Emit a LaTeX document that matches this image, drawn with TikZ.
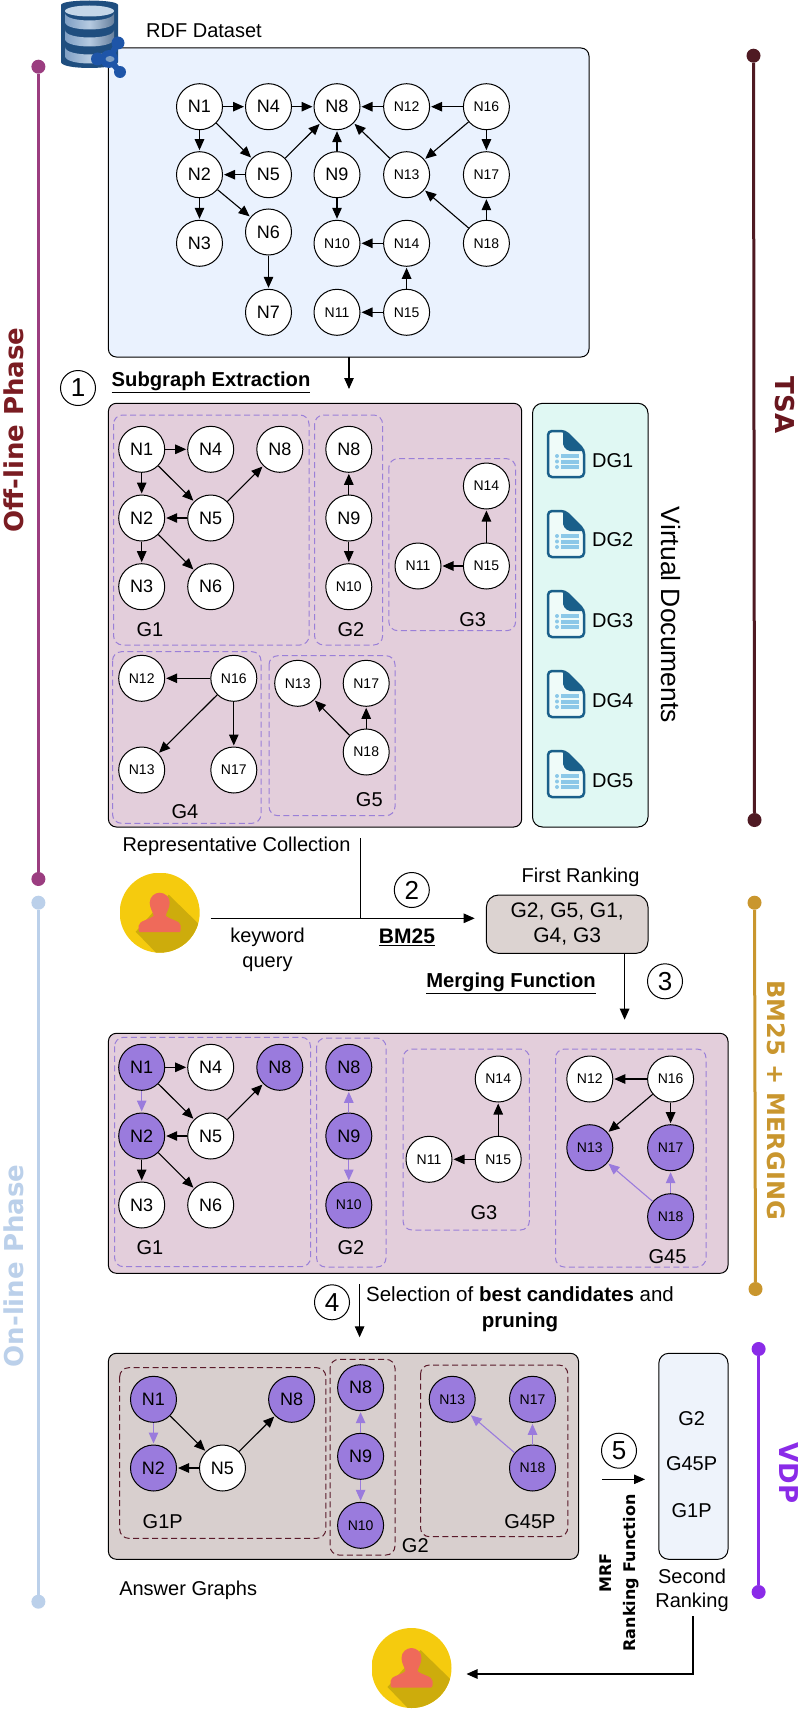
\documentclass[tikz,border=0pt]{standalone}
\usepackage{fontspec}
\setmainfont{Liberation Sans}
\setsansfont{DejaVu Sans}
\usetikzlibrary{arrows.meta,shapes.geometric}
\newcommand{\fsz}[2][]{\fontsize{#2}{#2}\selectfont}
\definecolor{offc}{HTML}{9B3D80}
\definecolor{offt}{HTML}{7A1C22}
\definecolor{onc}{HTML}{BBD0EA}
\definecolor{tsac}{HTML}{4F1A23}
\definecolor{bmc}{HTML}{C9962E}
\definecolor{vdpc}{HTML}{8A2BE8}
\definecolor{pur}{HTML}{9A7BDD}
\definecolor{dash1}{HTML}{9A7FD8}
\definecolor{dash2}{HTML}{5A1A2A}
\definecolor{bxa}{HTML}{EAF2FE}
\definecolor{bxb}{HTML}{E3CEDB}
\definecolor{bxc}{HTML}{E0F8F3}
\definecolor{bxd}{HTML}{D8CFCE}
\definecolor{bxe}{HTML}{EEF3FB}
\definecolor{ic}{HTML}{1A5F8A}
\definecolor{iclite}{HTML}{8CC8E8}
\definecolor{userbg}{HTML}{F5CB0E}
\definecolor{usershade}{HTML}{CDAC0C}
\definecolor{userfg}{HTML}{EF6A5A}
\definecolor{dbdark}{HTML}{1F4E7F}
\definecolor{dbmid}{HTML}{7F9FC4}
\definecolor{dblite}{HTML}{C4D6E8}
\definecolor{linkc}{HTML}{1E55A8}
\tikzset{
  x=1pt,y=-1pt,
  nd/.style={circle,draw=black,line width=1pt,fill=white,minimum size=46pt,inner sep=0pt,font=\fsz{18}},
  nds/.style={nd,font=\fsz{14}},
  pu/.style={fill=pur},
  edge/.style={line width=1.1pt,-{Triangle[length=11pt,width=9.5pt]},shorten >=1pt},
  pedge/.style={line width=1.1pt,draw=pur,-{Triangle[length=11pt,width=9.5pt]},shorten >=1pt},
  bigbox/.style={draw=black,line width=1pt,rounded corners=8pt},
  dbox/.style={draw=dash1,line width=1pt,dash pattern=on 6pt off 3.5pt,rounded corners=9pt},
  ebox/.style={draw=dash2,line width=1pt,dash pattern=on 6pt off 3.5pt,rounded corners=9pt},
  lab/.style={inner sep=0pt,font=\fsz{20}},
  glab/.style={inner sep=0pt,font=\fsz{20}},
  num/.style={circle,draw=black,line width=1pt,minimum size=35pt,inner sep=0pt,font=\fsz{26}},
  dot/.style={circle,minimum size=14pt,inner sep=0pt},
  phase/.style={inner sep=0pt,font=\fsz{26}\sffamily\bfseries},
}
\newcommand{\usericon}[2]{%
  \begin{scope}[shift={(#1,#2)}]
    \begin{scope}
      \clip (0,0) circle[radius=40];
      \fill[userbg] (-40,-40) rectangle (40,40);
      \fill[usershade] (9,-18) -- (50,22) -- (50,50) -- (6,50) -- (-24,19) -- cycle;
    \end{scope}
    \fill[userfg] (-21,17) -- (-21,13) .. controls (-21,8) and (-10,7) .. (-6,3)
      .. controls (-7,-1) and (-10,-5) .. (-10,-10) .. controls (-10,-16) and (-5,-20) .. (0,-20)
      .. controls (5,-20) and (10,-16) .. (10,-10) .. controls (10,-5) and (7,-1) .. (6,3)
      .. controls (10,7) and (21,8) .. (21,13) -- (21,17) .. controls (21,19) and (20,19.5) .. (19,19.5)
      -- (-19,19.5) .. controls (-20,19.5) and (-21,19) .. (-21,17) -- cycle;
  \end{scope}}
\newcommand{\docicon}[2]{%
  \begin{scope}[shift={(#1,#2)}]
    \draw[line width=2.5pt,draw=ic,fill=bxc!50!white,line join=round,rounded corners=4pt] (0,0) -- (17,0) -- (36,19) -- (36,46) -- (0,46) -- cycle;
    \fill[ic,rounded corners=2pt] (15,0) -- (17,0) -- (36,19) -- (36,20) -- (20,20) -- (15,15) -- cycle;
    \foreach \yy in {25,30.5,36}{
      \fill[iclite] (9,\yy) circle[radius=2];
      \fill[iclite] (13,\yy-2) rectangle (31,\yy+2);
    }
  \end{scope}}
\newcommand{\dbband}[1]{%
  \shade[left color=dbmid,right color=dbmid!80!black,middle color=dblite!80!dbmid]
    (65,#1) .. controls (65,#1+10) and (114,#1+10) .. (114,#1)
    -- (114,#1+9) .. controls (114,#1+19) and (65,#1+19) .. (65,#1+9) -- cycle;}
\begin{document}
\begin{tikzpicture}
\useasboundingbox (0,0) rectangle (799,1710);

% ---- side bars
\node[dot,fill=offc] (offa) at (38.4,66.7) {};
\node[dot,fill=offc] (offb) at (38.4,879) {};
\draw[offc,line width=3pt] (offa) -- (offb);
\node[dot,fill=onc] (ona) at (38.4,902.7) {};
\node[dot,fill=onc] (onb) at (38.4,1601.7) {};
\draw[onc,line width=3pt] (ona) -- (onb);
\node[dot,fill=tsac] (tsaa) at (753.5,55.7) {};
\node[dot,fill=tsac] (tsab) at (754.5,820) {};
\draw[tsac,line width=3pt] (tsaa) -- (tsab);
\node[dot,fill=bmc] (bma) at (754.5,902.7) {};
\node[dot,fill=bmc] (bmb) at (755.5,1289) {};
\draw[bmc,line width=3pt] (bma) -- (bmb);
\node[dot,fill=vdpc] (vda) at (758.6,1349) {};
\node[dot,fill=vdpc] (vdb) at (758.6,1592) {};
\draw[vdpc,line width=3pt] (vda) -- (vdb);
\node[phase,rotate=90,text=offt] (offlab) at (13.5,430) {Off-line Phase};
\node[phase,rotate=90,text=onc] (onlab) at (13.5,1266) {On-line Phase};
\node[phase,rotate=-90,text=tsac!85!red] (tsalab) at (785,405) {TSA};
\node[phase,rotate=-90,text=bmc,font=\fsz{24}\sffamily\bfseries] (bmlab) at (776,1100) {BM25 + MERGING};
\node[phase,rotate=-90,text=vdpc] (vdlab) at (789,1473) {VDP};

% ---- boxes
\draw[bigbox,fill=bxa] (108.4,48) rectangle (589,357);
\draw[bigbox,fill=bxb] (108.4,403.3) rectangle (521.7,827);
\draw[bigbox,fill=bxc,rounded corners=10pt] (532.5,403.3) rectangle (648,827);
\draw[bigbox,fill=bxb] (108.4,1033.3) rectangle (728,1273.3);
\draw[bigbox,fill=bxd] (108.4,1353.3) rectangle (578.5,1559.3);
\draw[bigbox,fill=bxe,rounded corners=10pt] (658.8,1353.3) rectangle (728,1559.3);

% ---- database icon
\fill[dbdark,rounded corners=6pt] (61,11) .. controls (61,-1) and (118,-1) .. (118,11) -- (118,56) .. controls (118,70) and (61,70) .. (61,56) -- cycle;
\dbband{13}\dbband{30}\dbband{47}
\fill[dblite] (89.5,11) ellipse[x radius=24.5,y radius=5.5];
% link glyph
\draw[linkc,line width=6pt] (109,59) -- (118,43);
\draw[linkc,line width=6pt] (109,59) -- (120,72);
\draw[linkc,line width=6pt] (109,59) -- (98,59);
\fill[linkc] (118,43) circle[radius=6.5];
\fill[linkc] (120,72) circle[radius=6];
\fill[linkc] (97.5,59) circle[radius=6.5];
\fill[linkc] (109,59) circle[radius=9];
\fill[dbmid] (110,59) ellipse[x radius=4.5,y radius=3];
\node[lab] (rdflab) at (204,30.7) {RDF Dataset};

% ---- RDF graph
\node[nd] (r1) at (199.5,106.7) {N1};
\node[nd] (r4) at (268.5,106.7) {N4};
\node[nd] (r8) at (337,106.7) {N8};
\node[nds] (r12) at (406.6,106.7) {N12};
\node[nds] (r16) at (486.4,106.7) {N16};
\node[nd] (r2) at (199.5,174.7) {N2};
\node[nd] (r5) at (268.5,174.7) {N5};
\node[nd] (r9) at (337,174.7) {N9};
\node[nds] (r13) at (406.6,174.7) {N13};
\node[nds] (r17) at (486.4,174.7) {N17};
\node[nd] (r3) at (199.5,243.3) {N3};
\node[nd] (r6) at (268.5,232) {N6};
\node[nds] (r10) at (337,243.3) {N10};
\node[nds] (r14) at (406.6,243.3) {N14};
\node[nds] (r18) at (486.4,243.3) {N18};
\node[nd] (r7) at (268.5,312.3) {N7};
\node[nds] (r11) at (337,312.3) {N11};
\node[nds] (r15) at (406.6,312.3) {N15};
\foreach \a/\b in {r1/r4,r4/r8,r12/r8,r16/r12,r1/r2,r1/r5,r5/r8,r9/r8,r13/r8,r16/r13,r16/r17,r5/r2,r2/r3,r2/r6,r9/r10,r18/r13,r18/r17,r14/r10,r15/r14,r15/r11,r6/r7}
  \draw[edge] (\a) -- (\b);

\coordinate (rdfs) at (349,357);
\coordinate (rdfe) at (349,390);
\draw[edge] (rdfs) -- (rdfe);
\node[num] (c1) at (78,388) {1};
\node[lab,font=\fsz{20.2}\bfseries,anchor=west] (sublab) at (111.5,382) {\underline{Subgraph Extraction}};

% ---- subgraphs
\draw[dbox] (113.6,415) rectangle (309,645);
\draw[dbox] (314.6,415) rectangle (382.6,645);
\draw[dbox] (388.8,458.7) rectangle (515.6,630.7);
\draw[dbox] (112.5,651.7) rectangle (261,823.3);
\draw[dbox] (269,655.7) rectangle (395,815.7);
\node[nd] (s1) at (141.7,449.3) {N1};
\node[nd] (s4) at (210.7,449.3) {N4};
\node[nd] (s8) at (279.8,449.3) {N8};
\node[nd] (s2) at (141.7,518) {N2};
\node[nd] (s5) at (210.7,518) {N5};
\node[nd] (s3) at (141.7,586.7) {N3};
\node[nd] (s6) at (210.7,586.7) {N6};
\foreach \a/\b in {s1/s4,s1/s2,s1/s5,s5/s8,s5/s2,s2/s3,s2/s6} \draw[edge] (\a) -- (\b);
\node[nd] (t8) at (348.8,449.3) {N8};
\node[nd] (t9) at (348.8,518) {N9};
\node[nds] (t10) at (348.8,586.7) {N10};
\foreach \a/\b in {t9/t8,t9/t10} \draw[edge] (\a) -- (\b);
\node[nds] (u14) at (486.4,486) {N14};
\node[nds] (u11) at (418,566) {N11};
\node[nds] (u15) at (486.4,566) {N15};
\foreach \a/\b in {u15/u14,u15/u11} \draw[edge] (\a) -- (\b);
\node[nds] (v12) at (141.7,678.3) {N12};
\node[nds] (v16) at (233.8,678.3) {N16};
\node[nds] (v13) at (141.7,770) {N13};
\node[nds] (v17) at (233.8,770) {N17};
\foreach \a/\b in {v16/v12,v16/v13,v16/v17} \draw[edge] (\a) -- (\b);
\node[nds] (w13) at (297.7,683.3) {N13};
\node[nds] (w17) at (366.2,683.3) {N17};
\node[nds] (w18) at (366.2,752) {N18};
\foreach \a/\b in {w18/w13,w18/w17} \draw[edge] (\a) -- (\b);
\node[glab] (lg1) at (150,629.3) {G1};
\node[glab] (lg2) at (351,629.3) {G2};
\node[glab] (lg3) at (472.6,619.3) {G3};
\node[glab] (lg4) at (185,811.7) {G4};
\node[glab] (lg5) at (369.3,800) {G5};

% ---- virtual documents
\docicon{548}{431}\docicon{548}{511}\docicon{548}{591}\docicon{548}{671}\docicon{548}{751}
\node[glab,anchor=west] (dg1) at (592,461) {DG1};
\node[glab,anchor=west] (dg2) at (592,540) {DG2};
\node[glab,anchor=west] (dg3) at (592,621) {DG3};
\node[glab,anchor=west] (dg4) at (592,701) {DG4};
\node[glab,anchor=west] (dg5) at (592,781) {DG5};
\node[lab,rotate=-90,font=\fsz{26.5}] (vdoc) at (671,615) {Virtual Documents};

% ---- ranking row
\node[lab] (replab) at (236.5,846.7) {Representative Collection};
\usericon{159.7}{912.7}
\coordinate (qs) at (210.7,918.3);
\coordinate (repa) at (360.6,838);
\coordinate (repb) at (360.6,918.3);
\draw[line width=.6pt] (repa) -- (repb);
\node[num] (c2) at (411.8,890) {2};
\node[draw=black,line width=1pt,fill={rgb,255:red,220;green,211;blue,209},rounded corners=12pt,minimum width=161.6pt,minimum height=58.3pt,inner sep=0pt,align=center,font=\fontsize{21}{25.6}\selectfont] (first) at (567.2,924.2) {G2, G5, G1,\\G4, G3};
\coordinate (qe) at (474.7,918.3);
\draw[edge,shorten >=0pt] (qs) -- (qe);
\node[lab,align=center,font=\fontsize{20}{24.7}\selectfont] (kwlab) at (267.5,949.6) {keyword\\query};
\node[lab,font=\fsz{21}\bfseries] (bmfn) at (407,937) {\underline{BM25}};
\node[lab] (frlab) at (580.6,877.7) {First Ranking};
\coordinate (fa) at (624.6,953.3);
\coordinate (fb) at (624.6,1020.7);
\draw[edge] (fa) -- (fb);
\node[lab,font=\fsz{20.2}\bfseries] (mflab) at (511,983.3) {\underline{Merging Function}};
\node[num] (c3) at (665,981.3) {3};

% ---- merged graphs
\draw[dbox] (114.6,1037.3) rectangle (310.5,1266.7);
\draw[dbox] (316.6,1038) rectangle (386,1267);
\draw[dbox] (403,1049) rectangle (529.4,1230);
\draw[dbox] (555.5,1049) rectangle (706,1267);
\node[nd,pu] (a1) at (141.7,1067.3) {N1};
\node[nd] (a4) at (210.7,1067.3) {N4};
\node[nd,pu] (a8) at (279.8,1067.3) {N8};
\node[nd,pu] (a2) at (141.7,1136) {N2};
\node[nd] (a5) at (210.7,1136) {N5};
\node[nd] (a3) at (141.7,1205) {N3};
\node[nd] (a6) at (210.7,1205) {N6};
\foreach \a/\b in {a1/a4,a1/a5,a5/a8,a5/a2,a2/a3,a2/a6} \draw[edge] (\a) -- (\b);
\draw[pedge] (a1) -- (a2);
\node[nd,pu] (b8) at (348.8,1067.3) {N8};
\node[nd,pu] (b9) at (348.8,1136) {N9};
\node[nds,pu] (b10) at (348.8,1205) {N10};
\foreach \a/\b in {b9/b8,b9/b10} \draw[pedge] (\a) -- (\b);
\node[nds] (c14) at (498.2,1079) {N14};
\node[nds] (c11) at (429,1159.3) {N11};
\node[nds] (c15) at (498.2,1159.3) {N15};
\foreach \a/\b in {c15/c14,c15/c11} \draw[edge] (\a) -- (\b);
\node[nds] (d12) at (589.8,1079) {N12};
\node[nds] (d16) at (670.6,1079) {N16};
\node[nds,pu] (d13) at (589.8,1147.7) {N13};
\node[nds,pu] (d17) at (670.6,1147.7) {N17};
\node[nds,pu] (d18) at (670.6,1216.7) {N18};
\foreach \a/\b in {d16/d12,d16/d13,d16/d17} \draw[edge] (\a) -- (\b);
\foreach \a/\b in {d18/d13,d18/d17} \draw[pedge] (\a) -- (\b);
\node[glab] (mg1) at (150,1247.3) {G1};
\node[glab] (mg2) at (351,1247.3) {G2};
\node[glab] (mg3) at (484,1212.7) {G3};
\node[glab] (mg45) at (667.5,1256.7) {G45};

% ---- selection
\node[num] (c4) at (332,1302.3) {4};
\coordinate (sa) at (359.6,1284);
\coordinate (sb) at (359.6,1338.3);
\draw[edge] (sa) -- (sb);
\node[lab,align=center,font=\fontsize{20.5}{25.6}\selectfont] (sellab) at (520,1309.5) {Selection of \textbf{best candidates} and\\\textbf{pruning}};

% ---- answer graphs
\draw[ebox] (119.7,1367.7) rectangle (325.8,1538.3);
\draw[ebox] (330,1359.3) rectangle (395,1555);
\draw[ebox] (420.5,1365) rectangle (567.8,1536.7);
\node[nd,pu] (e1) at (153.5,1399.3) {N1};
\node[nd,pu] (e8) at (291.6,1399.3) {N8};
\node[nd,pu] (e2) at (153.5,1468) {N2};
\node[nd] (e5) at (222.5,1468) {N5};
\foreach \a/\b in {e1/e5,e5/e8,e5/e2} \draw[edge] (\a) -- (\b);
\draw[pedge] (e1) -- (e2);
\node[nd,pu] (f8) at (360.6,1387.7) {N8};
\node[nd,pu] (f9) at (360.6,1456.3) {N9};
\node[nds,pu] (f10) at (360.6,1525.3) {N10};
\foreach \a/\b in {f9/f8,f9/f10} \draw[pedge] (\a) -- (\b);
\node[nds,pu] (h13) at (452.2,1399.3) {N13};
\node[nds,pu] (h17) at (532.5,1399.3) {N17};
\node[nds,pu] (h18) at (532.5,1468) {N18};
\foreach \a/\b in {h18/h13,h18/h17} \draw[pedge] (\a) -- (\b);
\node[glab] (ag1) at (162.7,1521.7) {G1P};
\node[glab] (ag45) at (530,1521.7) {G45P};
\node[glab] (ag2) at (415.3,1546) {G2};
\node[lab] (anslab) at (188.2,1590.7) {Answer Graphs};

% ---- second ranking
\node[num] (c5) at (619,1450.7) {5};
\coordinate (ma) at (602,1479.3);
\coordinate (mb) at (646,1479.3);
\draw[edge] (ma) -- (mb);
\node[inner sep=0pt,rotate=90,align=center,font=\fontsize{16}{24}\selectfont\sffamily\bfseries] (mrf) at (619.7,1573) {MRF\\Ranking Function};
\node[glab] (sr1) at (691.6,1418.3) {G2};
\node[glab] (sr2) at (691.6,1464) {G45P};
\node[glab] (sr3) at (691.6,1510.7) {G1P};
\node[lab,align=center,font=\fontsize{20}{24}\selectfont] (srlab) at (692,1590.3) {Second\\Ranking};
\usericon{411.5}{1668}
\coordinate (ra) at (693,1616);
\coordinate (rb) at (693,1674);
\coordinate (rc) at (465.5,1674);
\draw[edge] (ra) -- (rb) -- (rc);
\end{tikzpicture}
\end{document}
